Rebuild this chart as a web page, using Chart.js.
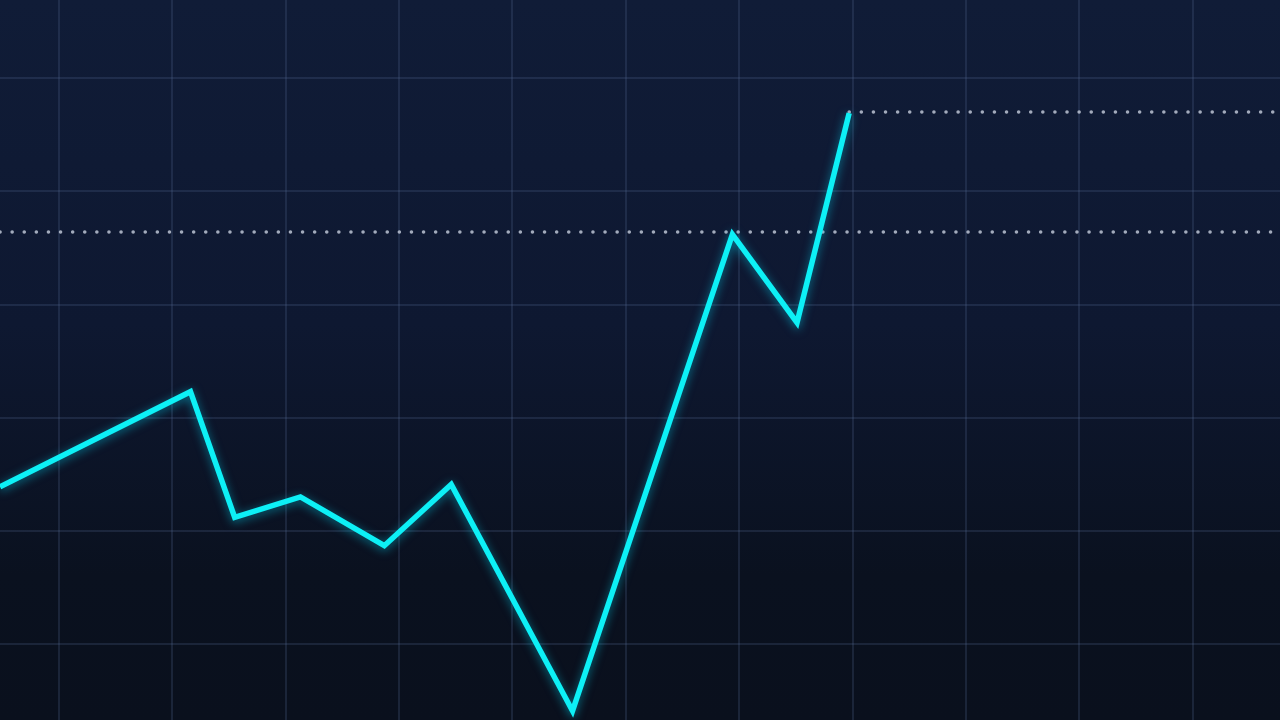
<!DOCTYPE html>
<html>
<head>
<meta charset="utf-8">
<script src="https://cdn.jsdelivr.net/npm/chart.js@4.4.0/dist/chart.umd.min.js"></script>
<style>
  html, body { margin: 0; padding: 0; }
  body {
    width: 1280px; height: 720px; overflow: hidden;
    background: linear-gradient(to bottom, #101c37 0%, #0e1831 45%, #0a111f 80%, #0a101d 100%);
  }
  #graph { display: block; }
</style>
</head>
<body>
<canvas id="graph" width="1280" height="720"></canvas>
<script>
const style = {
  lineCyan: '#0df0f6',
  glow: 'rgba(0, 225, 255, 0.5)',
  grid: 'rgba(85, 105, 145, 0.24)',
  dots: 'rgba(200, 208, 222, 0.8)'
};

// price path (x in grid steps, y in price)
const timeSteps = [-0.52, 1.16, 1.55, 2.13, 2.87, 3.46, 4.53, 5.94, 6.51, 6.97];
const prices = [113.9, 122.3, 111.2, 113.0, 108.7, 114.1, 94.1, 136.2, 128.4, 146.9];

// dotted reference levels
const highLevel = 147.0;
const highStart = 6.97;
const prevHighLevel = 136.4;

// axis ranges
const xRange = [-0.52, 10.77];
const yRange = [93.3, 156.9];
const xGridTicks = [0, 1, 2, 3, 4, 5, 6, 7, 8, 9, 10];
const yGridTicks = [100, 110, 120, 130, 140, 150];

const pricePoints = timeSteps.map((t, i) => ({ x: t, y: prices[i] }));

// glow on the main line
const glowPlugin = {
  id: 'glow',
  beforeDatasetDraw(chart, args) {
    if (args.index !== 0) return;
    const ctx = chart.ctx;
    ctx.save();
    ctx.shadowColor = style.glow;
    ctx.shadowBlur = 10;
    ctx.shadowOffsetY = 2;
  },
  afterDatasetDraw(chart, args) {
    if (args.index !== 0) return;
    chart.ctx.restore();
  }
};

const dotted = {
  showLine: true,
  borderColor: style.dots,
  borderWidth: 3.5,
  borderDash: [0.1, 12],
  borderCapStyle: 'round',
  pointRadius: 0,
  order: 1
};

new Chart(document.getElementById('graph'), {
  type: 'scatter',
  data: {
    datasets: [{
      data: pricePoints,
      showLine: true,
      borderColor: style.lineCyan,
      borderWidth: 5.5,
      borderJoinStyle: 'miter',
      pointRadius: 0,
      tension: 0,
      order: 0
    }, {
      ...dotted,
      data: [{ x: highStart, y: highLevel }, { x: xRange[1], y: highLevel }]
    }, {
      ...dotted,
      data: [{ x: xRange[0], y: prevHighLevel }, { x: xRange[1], y: prevHighLevel }]
    }]
  },
  options: {
    responsive: false,
    animation: false,
    layout: { padding: 0 },
    plugins: {
      legend: { display: false },
      tooltip: { enabled: false }
    },
    scales: {
      x: {
        type: 'linear',
        min: xRange[0],
        max: xRange[1],
        afterBuildTicks: (axis) => { axis.ticks = xGridTicks.map(v => ({ value: v })); },
        grid: { color: style.grid, lineWidth: 2, drawTicks: false },
        border: { display: false },
        ticks: { display: false }
      },
      y: {
        type: 'linear',
        min: yRange[0],
        max: yRange[1],
        afterBuildTicks: (axis) => { axis.ticks = yGridTicks.map(v => ({ value: v })); },
        grid: { color: style.grid, lineWidth: 2, drawTicks: false },
        border: { display: false },
        ticks: { display: false }
      }
    }
  },
  plugins: [glowPlugin]
});
</script>
</body>
</html>
